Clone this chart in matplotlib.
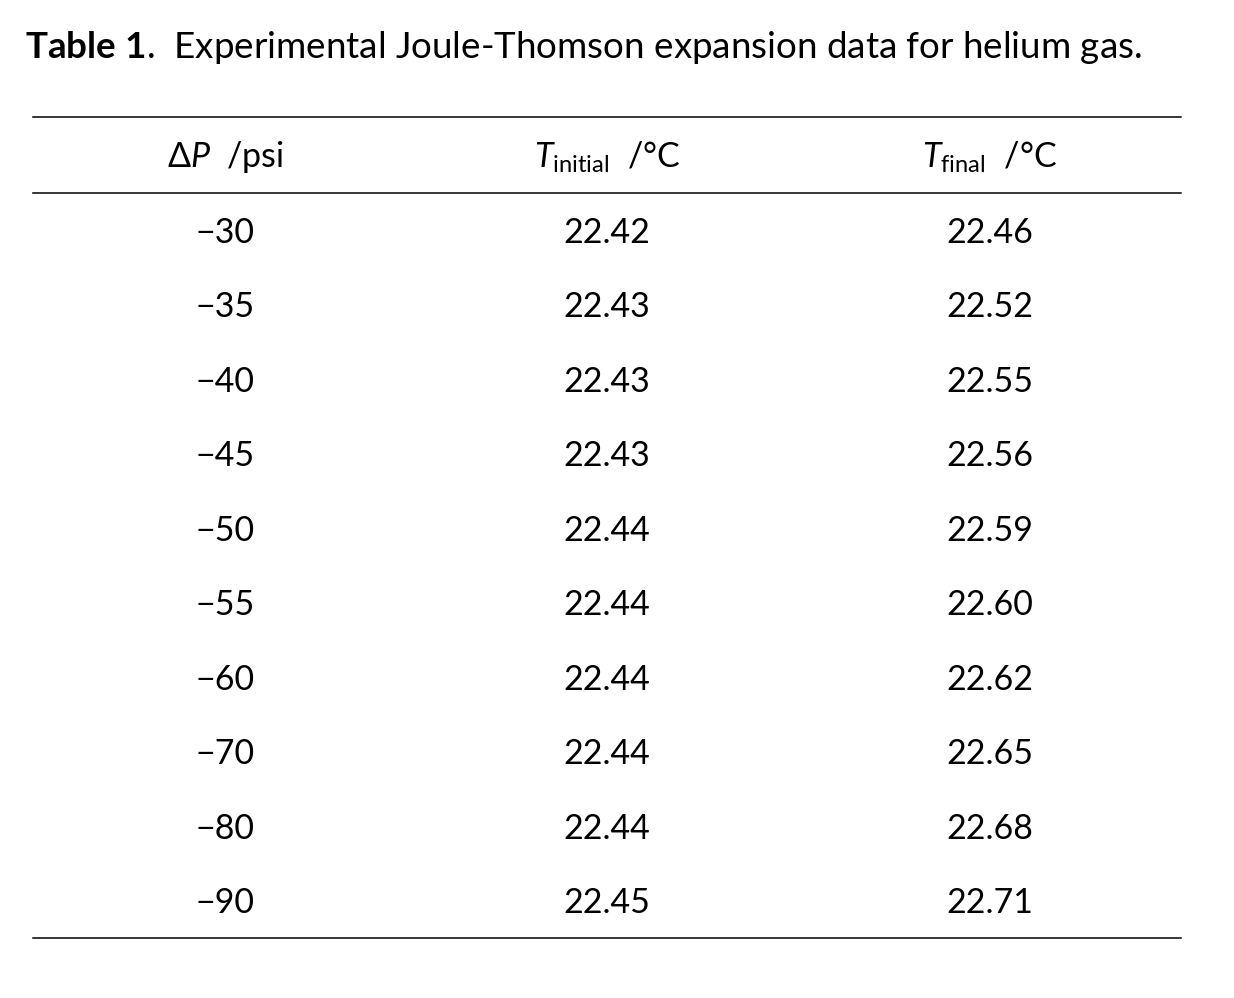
import matplotlib
matplotlib.use("Agg")
import matplotlib.pyplot as plt
from matplotlib.lines import Line2D

dP = [-30, -35, -40, -45, -50, -55, -60, -70, -80, -90]
T_initial = [22.42, 22.43, 22.43, 22.43, 22.44, 22.44, 22.44, 22.44, 22.44, 22.45]
T_final = [22.46, 22.52, 22.55, 22.56, 22.59, 22.60, 22.62, 22.65, 22.68, 22.71]

FONT = "Lato"
plt.rcParams['font.family'] = [FONT, 'DejaVu Sans']
plt.rcParams['mathtext.fontset'] = 'custom'
plt.rcParams['mathtext.rm'] = FONT
plt.rcParams['mathtext.it'] = FONT + ':italic'
plt.rcParams['mathtext.bf'] = FONT + ':bold'

W, H = 1234, 998
fig = plt.figure(figsize=(W/100, H/100), dpi=100)

def fx(x): return x / W
def fy(y): return 1 - y / H

fig.text(fx(25), fy(47), r"$\mathbf{Table\ 1}$.  Experimental Joule-Thomson expansion data for helium gas.",
         fontsize=26.5, va='center', ha='left')

for y in (117, 193, 938):
    fig.add_artist(Line2D([fx(33), fx(1181)], [fy(y), fy(y)], color='black', lw=1.1))

cols = [225, 607, 990]
hs = 24.5
fig.text(fx(cols[0]), fy(157), r"$\Delta\mathit{P}$  /psi", fontsize=hs, ha='center', va='center')
fig.text(fx(cols[1]), fy(157), r"$\mathit{T}_{\mathrm{initial}}$  /°C", fontsize=hs, ha='center', va='center')
fig.text(fx(cols[2]), fy(157), r"$\mathit{T}_{\mathrm{final}}$  /°C", fontsize=hs, ha='center', va='center')

row0, step = 233, (903 - 233) / 9
for i in range(len(dP)):
    y = fy(row0 + i * step)
    fig.text(fx(cols[0]), y, f"{dP[i]}".replace('-', '\u2212'), fontsize=hs, ha='center', va='center')
    fig.text(fx(cols[1]), y, f"{T_initial[i]:.2f}", fontsize=hs, ha='center', va='center')
    fig.text(fx(cols[2]), y, f"{T_final[i]:.2f}", fontsize=hs, ha='center', va='center')

fig.savefig("out.png", dpi=100)
